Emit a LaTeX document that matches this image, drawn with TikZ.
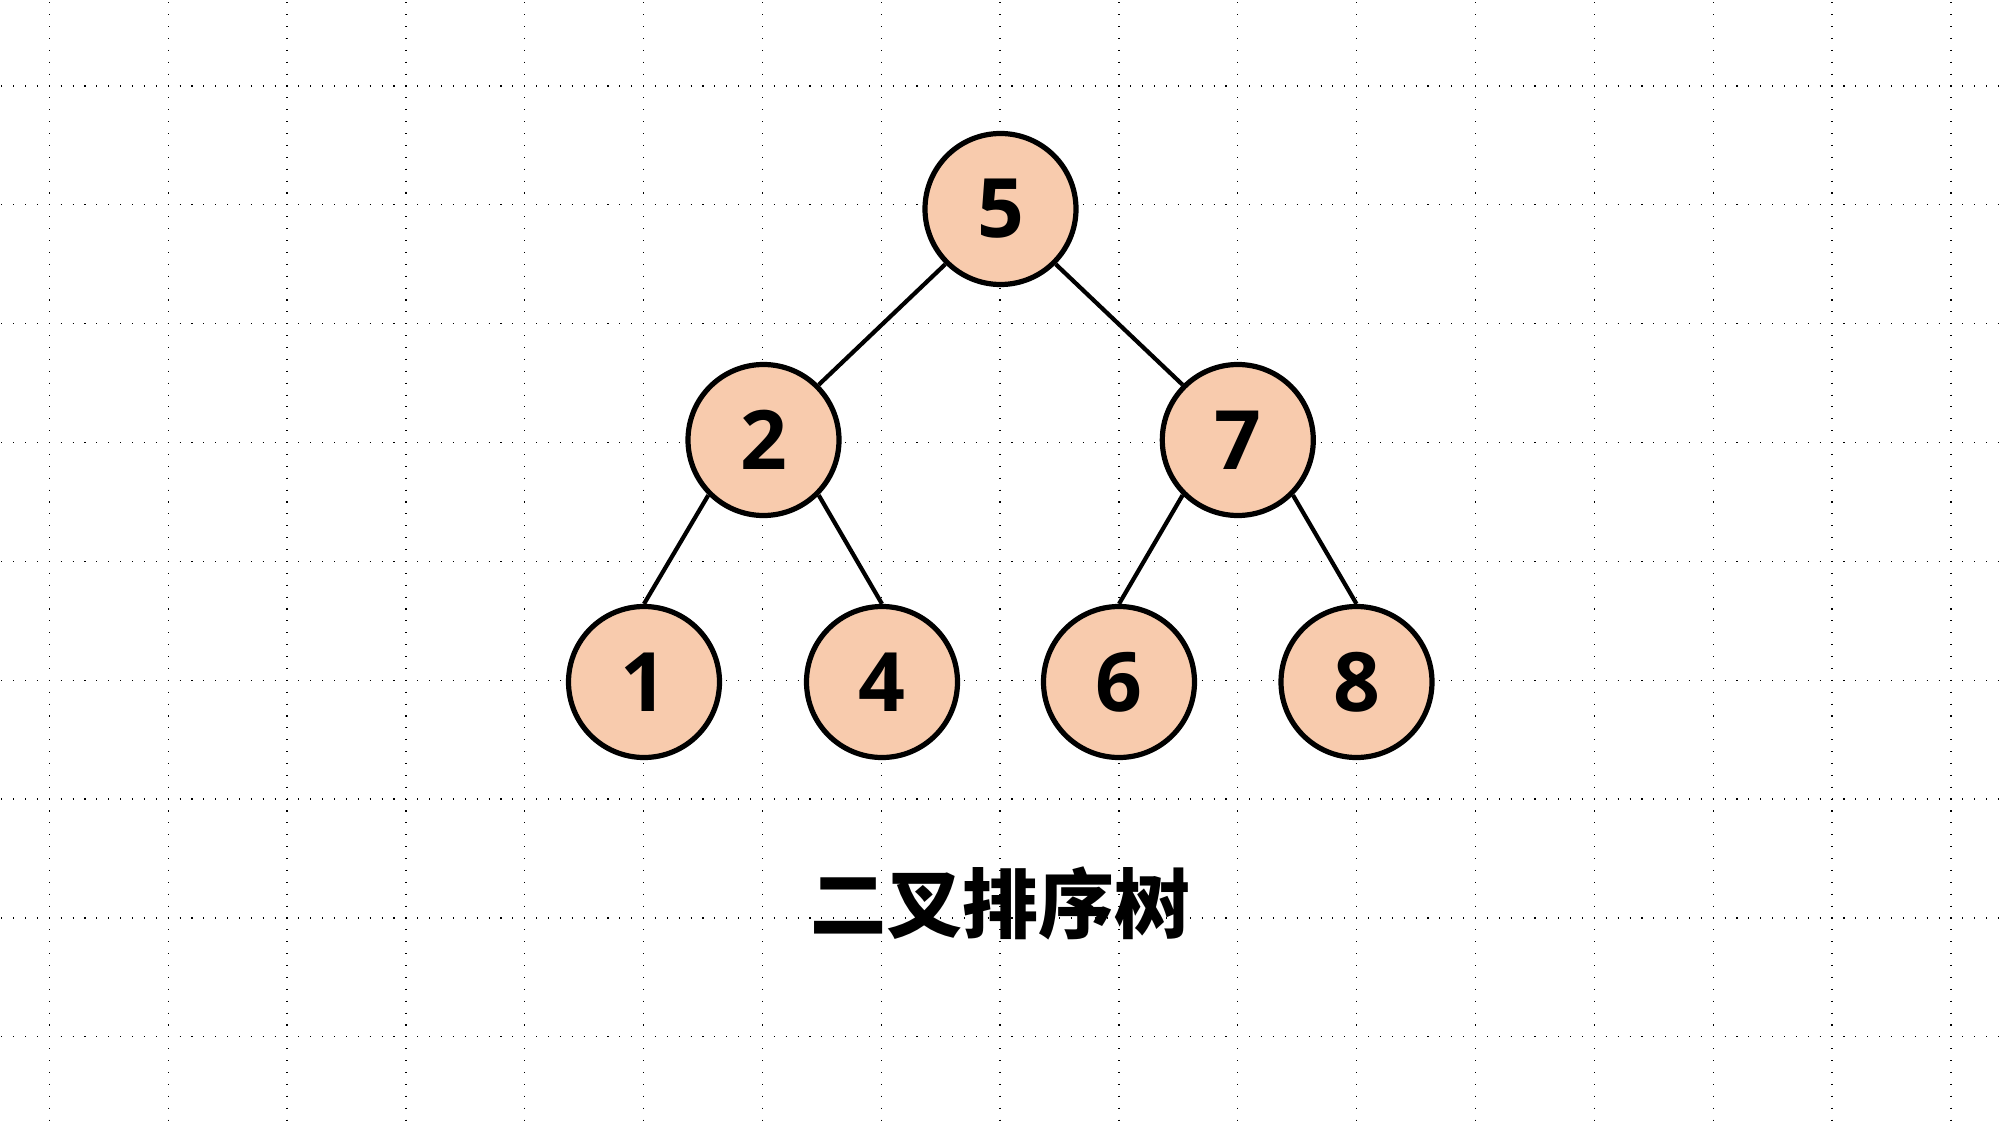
\documentclass[tikz,border=0pt]{standalone}
\usepackage{fontspec}
\setmainfont{Open Sans}
\newfontfamily\cjk{Noto Sans CJK SC}
\begin{document}
\begin{tikzpicture}[x=0.5pt,y=-0.5pt,
  treenode/.style={circle,draw=black,line width=2.6pt,fill=peach,minimum size=75.5pt,inner sep=0pt,
    font=\bfseries\fontsize{41pt}{41pt}\selectfont},
  edgeline/.style={line width=2.1pt,draw=black},
  gridline/.style={draw=black,line width=0.65pt,dash pattern=on 0.55pt off 5.3925pt}]
\definecolor{peach}{HTML}{F8CBAD}
\useasboundingbox (0,0) rectangle (2003,1123);
\fill[white] (0,0) rectangle (2003,1123);
% dotted grid
\foreach \k in {0,...,16}{
  \draw[gridline] ({49.3+\k*118.85},{86-7*11.885-0.5}) -- ({49.3+\k*118.85},1123);
}
\foreach \k in {0,...,8}{
  \draw[gridline] ({49.3-4*11.885-0.5},{86+\k*118.85}) -- (2003,{86+\k*118.85});
}
% nodes
\node[treenode] (n5) at (1000.5,209) {5};
\node[treenode] (n2) at (763.5,440) {2};
\node[treenode] (n7) at (1237.8,440) {7};
\node[treenode] (n1) at (644,682) {1};
\node[treenode] (n4) at (882,682) {4};
\node[treenode] (n6) at (1119,682) {6};
\node[treenode] (n8) at (1356.5,682) {8};
% edges
\draw[edgeline] (n5.south west) -- (n2.north east);
\draw[edgeline] (n5.south east) -- (n7.north west);
\draw[edgeline] (n2.south west) -- (n1.north);
\draw[edgeline] (n2.south east) -- (n4.north);
\draw[edgeline] (n7.south west) -- (n6.north);
\draw[edgeline] (n7.south east) -- (n8.north);
% title
\node[inner sep=0pt] (title) at (1000,903) {\cjk\bfseries\fontsize{38pt}{38pt}\selectfont 二叉排序树};
\end{tikzpicture}
\end{document}
